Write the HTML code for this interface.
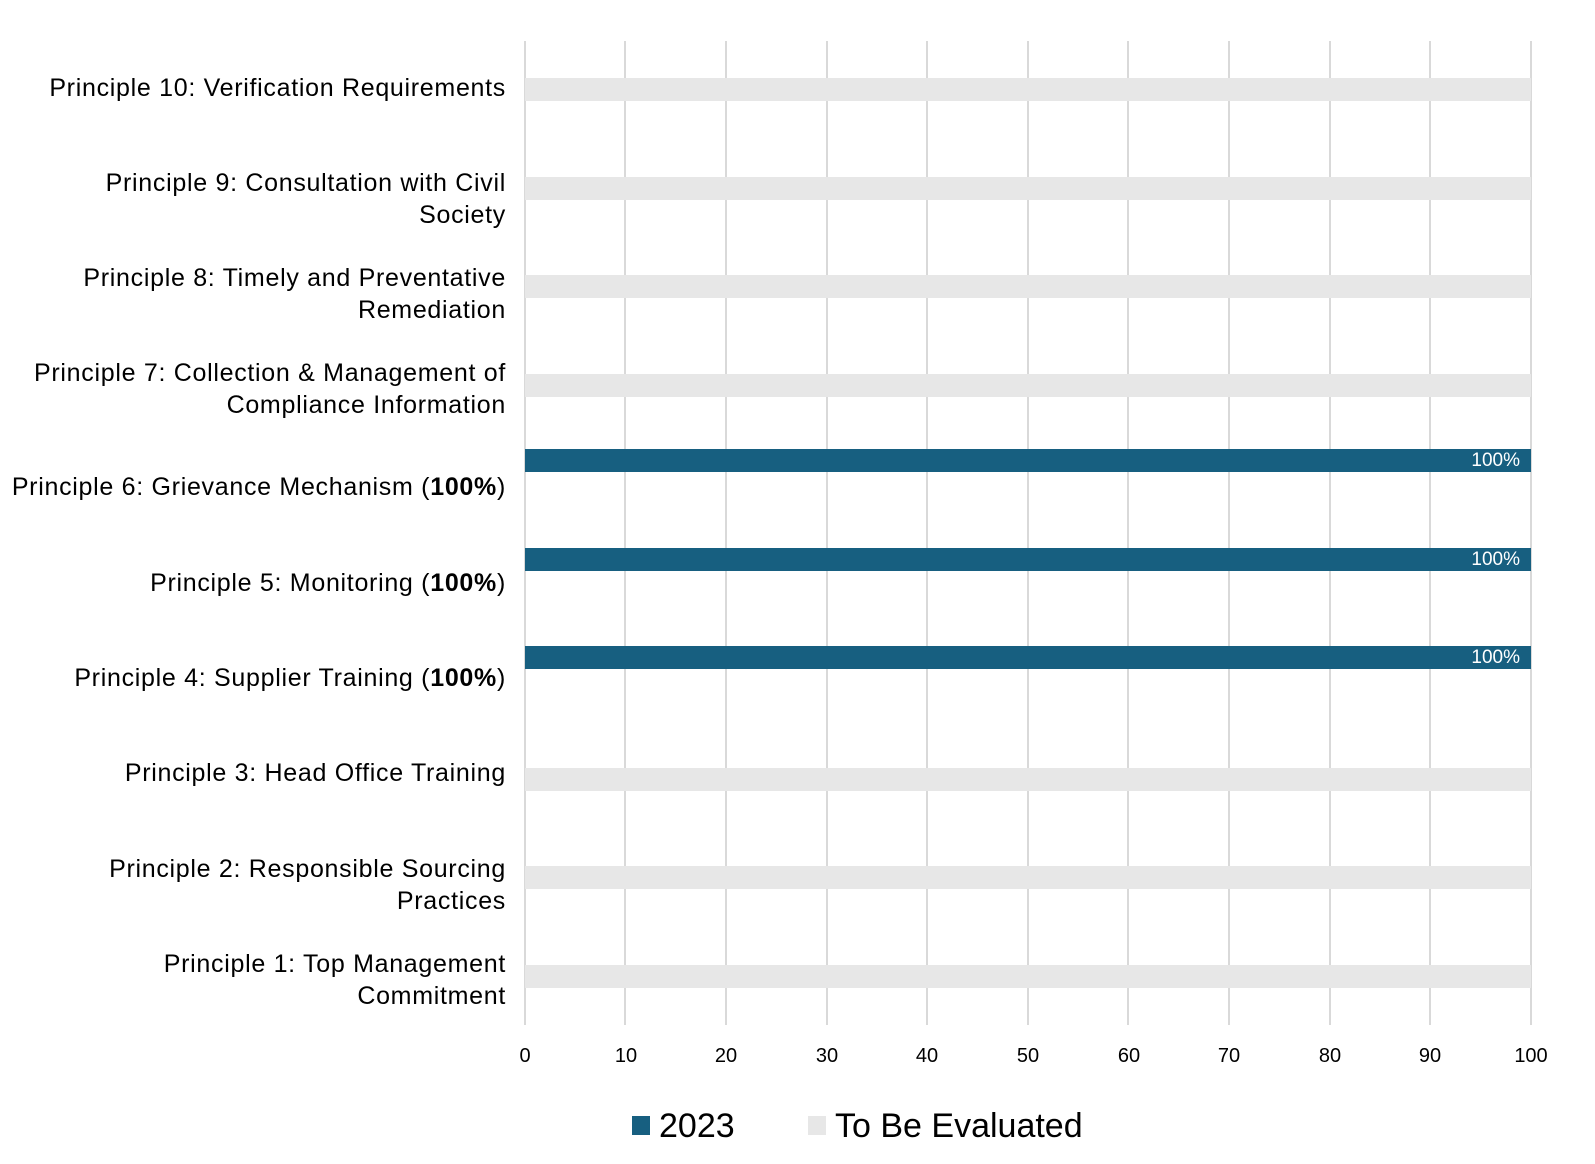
<!DOCTYPE html>
<html><head><meta charset="utf-8"><style>
body{margin:0;background:#fff;width:1595px;height:1164px;position:relative;overflow:hidden;font-family:"Liberation Sans",sans-serif;color:#000}
.g{position:absolute;top:41px;height:984px;width:2px;background:#d9d9d9}
.b{position:absolute;left:525px;width:1006px;height:23px}
.gr{background:#e7e7e7}
.tl{background:#175f80;color:#fff;font-size:19px;text-align:right;line-height:23px;box-sizing:border-box;padding-right:11px}
.l{position:absolute;right:1089px;text-align:right;font-size:25px;letter-spacing:0.7px;line-height:32px;white-space:nowrap}
.t{position:absolute;top:1045px;font-size:20px;width:60px;margin-left:-30px;text-align:center}
</style></head><body>
<div class="g" style="left:524px"></div><div class="g" style="left:624px"></div><div class="g" style="left:725px"></div><div class="g" style="left:826px"></div><div class="g" style="left:926px"></div><div class="g" style="left:1027px"></div><div class="g" style="left:1127px"></div><div class="g" style="left:1228px"></div><div class="g" style="left:1329px"></div><div class="g" style="left:1429px"></div><div class="g" style="left:1530px"></div>

<div class="b gr" style="top:78px"></div>
<div class="b gr" style="top:177px"></div>
<div class="b gr" style="top:275px"></div>
<div class="b gr" style="top:374px"></div>
<div class="b tl" style="top:449px">100%</div>
<div class="b tl" style="top:548px">100%</div>
<div class="b tl" style="top:646px">100%</div>
<div class="b gr" style="top:768px"></div>
<div class="b gr" style="top:866px"></div>
<div class="b gr" style="top:965px"></div>

<div class="l" style="top:72px">Principle 10: Verification Requirements</div>
<div class="l" style="top:167px">Principle 9: Consultation with Civil<br>Society</div>
<div class="l" style="top:262px">Principle 8: Timely and Preventative<br>Remediation</div>
<div class="l" style="top:357px">Principle 7: Collection &amp; Management of<br>Compliance Information</div>
<div class="l" style="top:471px">Principle 6: Grievance Mechanism (<b>100%</b>)</div>
<div class="l" style="top:567px">Principle 5: Monitoring (<b>100%</b>)</div>
<div class="l" style="top:662px">Principle 4: Supplier Training (<b>100%</b>)</div>
<div class="l" style="top:757px">Principle 3: Head Office Training</div>
<div class="l" style="top:853px">Principle 2: Responsible Sourcing<br>Practices</div>
<div class="l" style="top:948px">Principle 1: Top Management<br>Commitment</div>

<div class="t" style="left:525px">0</div><div class="t" style="left:626px">10</div><div class="t" style="left:726px">20</div><div class="t" style="left:827px">30</div><div class="t" style="left:927px">40</div><div class="t" style="left:1028px">50</div><div class="t" style="left:1129px">60</div><div class="t" style="left:1229px">70</div><div class="t" style="left:1330px">80</div><div class="t" style="left:1430px">90</div><div class="t" style="left:1531px">100</div>

<div style="position:absolute;left:632px;top:1116px;width:18px;height:19px;background:#175f80"></div>
<div style="position:absolute;left:659px;top:1106px;font-size:34px;line-height:40px">2023</div>
<div style="position:absolute;left:808px;top:1116px;width:18px;height:19px;background:#e7e7e7"></div>
<div style="position:absolute;left:835px;top:1106px;font-size:34px;line-height:40px">To Be Evaluated</div>
</body></html>
